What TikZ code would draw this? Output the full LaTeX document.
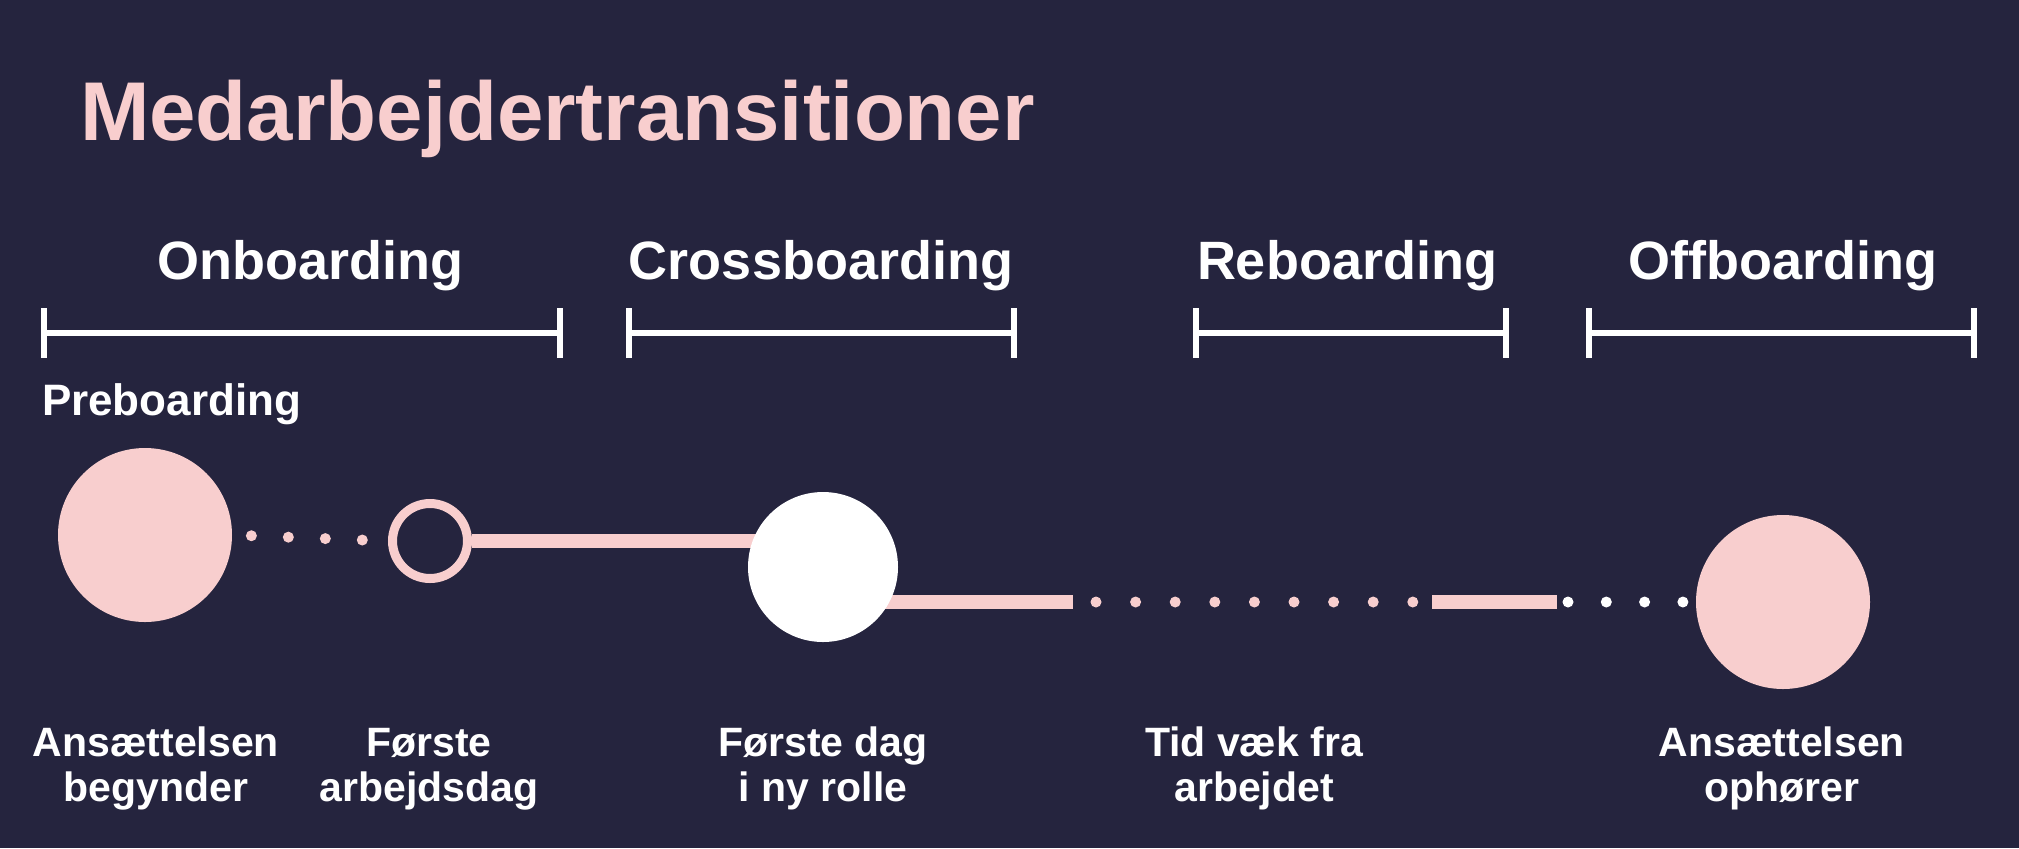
\documentclass[tikz,border=0pt]{standalone}
\usepackage{fontspec}
\setmainfont{Liberation Sans}
\usetikzlibrary{arrows.meta,backgrounds}
\definecolor{navy}{HTML}{25243E}
\definecolor{blush}{HTML}{F8CECE}
\begin{document}
\begin{tikzpicture}[x=0.5pt, y=-0.5pt,
	phase/.style = {anchor = base, text = white, font = \bfseries\fontsize{27}{27}\selectfont},
	event/.style = {anchor = base, align = center, text = white, font = \bfseries\fontsize{20.5}{22.5}\selectfont},
	span/.style = {draw = white, line width = 3pt, {Bar[width=25pt]}-{Bar[width=25pt]}},
	bigdot/.style = {circle, inner sep = 0pt, minimum size = 87pt, fill = blush},
	hollow/.style = {circle, inner sep = 0pt, minimum size = 37.5pt, draw = blush, line width = 4.5pt, fill = navy},
	whitedot/.style = {circle, inner sep = 0pt, minimum size = 75pt, fill = white},
	bar/.style = {draw = blush, line width = 7pt},
	dots/.style = {line width = 5.5pt, line cap = round, dash pattern = on 0pt off #1}]
	\useasboundingbox (0,0) rectangle (2019,848);
	% title and phases
	\node[anchor = base west, text = blush, font = \bfseries\fontsize{41.7}{42}\selectfont] (title) at (73,140) {Medarbejdertransitioner};
	\node[phase] (onboard) at (310,279) {Onboarding};
	\node[phase] (crossboard) at (821,279) {Crossboarding};
	\node[phase] (reboard) at (1347,279) {Reboarding};
	\node[phase] (offboard) at (1783,279) {Offboarding};
	\draw[span] (41,333) -- (563,333);
	\draw[span] (626,333) -- (1017,333);
	\draw[span] (1193,333) -- (1509,333);
	\draw[span] (1586,333) -- (1977,333);
	\node[anchor = base west, text = white, font = \bfseries\fontsize{22}{22}\selectfont] (preboard) at (35,415) {Preboarding};
	% milestones
	\node[bigdot] (start) at (145,535) {};
	\node[hollow] (firstday) at (430,541) {};
	\node[whitedot] (newrole) at (823,567) {};
	\node[bigdot] (end) at (1783,602) {};
	\coordinate (awayA) at (1073,602);
	\coordinate (awayB) at (1432,602);
	\coordinate (awayC) at (1557,602);
	\node[event] (lblstart) at (156,801) {Ansættelsen\\begynder};
	\node[event] (lblfirst) at (429,801) {Første\\arbejdsdag};
	\node[event] (lblrole) at (823,801) {Første dag\\i ny rolle};
	\node[event] (lblaway) at (1254,801) {Tid væk fra\\arbejdet};
	\node[event] (lblend) at (1782,801) {Ansættelsen\\ophører};
	% connectors behind the milestones
	\begin{pgfonlayer}{background}
		\fill[navy] (0,0) rectangle (2019,848);
		\draw[dots=18.5pt, draw = blush, dash phase = 9pt] (start.east) -- (firstday.west);
		\draw[bar] (firstday.east) -- (firstday.east -| newrole.center);
		\draw[bar] (newrole.center |- awayA) -- (awayA);
		\draw[dots=19.8pt, draw = blush, dash phase = 8.3pt] (awayA) -- (awayB);
		\draw[bar] (awayB) -- (awayC);
		\draw[dots=19.15pt, draw = white, dash phase = 13.65pt] (awayC) -- (end.west);
	\end{pgfonlayer}
\end{tikzpicture}
\end{document}
